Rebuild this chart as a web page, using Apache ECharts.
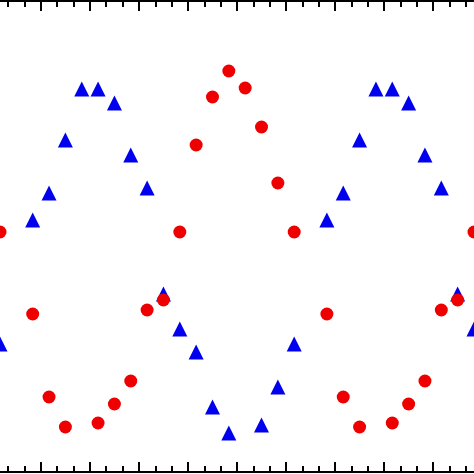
<!DOCTYPE html><html><head><meta charset="utf-8"><script src="https://cdn.jsdelivr.net/npm/echarts@6/dist/echarts.min.js"></script><style>html,body{margin:0;padding:0;background:#fff}#c{width:474px;height:474px}</style></head><body><div id="c"></div><script>
const redX=[0,2,3,4,6,7,8,9,10,11,12,13,14,15,16,17,18,20,21,22,24,25,26,27,28,29];
const redY=[231,313,396,426,422,403,380,309,299,231,144,96,70,87,126,182,231,313,396,426,422,403,380,309,299,231];
const blueX=[0,2,3,4,5,6,7,8,9,10,11,12,13,14,16,17,18,20,21,22,23,24,25,26,27,28,29];
const blueY=[343,219,192,139,88,88,102,154,187,293,328,351,406,432,424,386,343,219,192,139,88,88,102,154,187,293,328];
const majorTicks=[2.5,5.5,8.5,11.5,14.5,17.5,20.5,23.5,26.5];
const minorTicks=[];for(let i=0;i<29;i++)minorTicks.push(i+0.5);
const c=echarts.init(document.getElementById('c'));
function ax(pos,vals,len){return {type:'value',position:pos,min:0,max:29,axisLine:{show:true,onZero:false,lineStyle:{color:'#000',width:2}},axisTick:{show:true,inside:true,length:len,customValues:vals,lineStyle:{color:'#000',width:2}},axisLabel:{show:false},splitLine:{show:false}};}
c.setOption({animation:false,grid:{left:0,right:0,top:1,bottom:2},
xAxis:[ax('bottom',majorTicks,10),ax('bottom',minorTicks,6),ax('top',majorTicks,10),ax('top',minorTicks,6)],
yAxis:{type:'value',inverse:true,min:0,max:471,show:false},
series:[{type:'scatter',symbol:'triangle',symbolSize:15,itemStyle:{color:'#0000ee',opacity:1},data:blueX.map((x,i)=>[x,blueY[i]])},
{type:'scatter',symbol:'circle',symbolSize:13,itemStyle:{color:'#ee0000',opacity:1},data:redX.map((x,i)=>[x,redY[i]])}]});
</script></body></html>
